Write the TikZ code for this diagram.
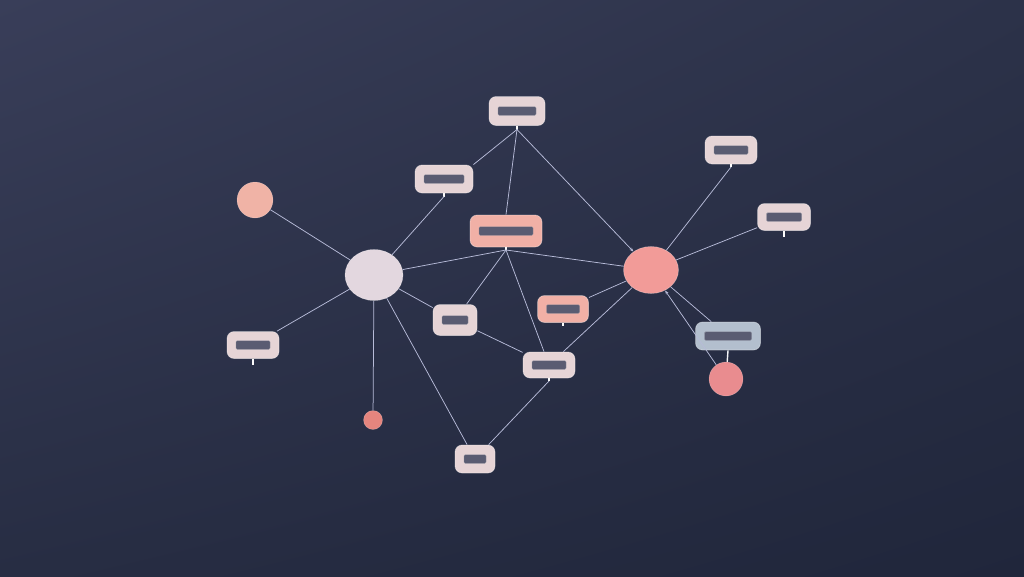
\documentclass[tikz,border=0pt]{standalone}
\usetikzlibrary{shapes.geometric,arrows.meta,shadings}
\definecolor{bgUL}{HTML}{393E59}
\definecolor{bgUR}{HTML}{2C3249}
\definecolor{bgLL}{HTML}{272D43}
\definecolor{bgLR}{HTML}{20263B}
\definecolor{edgecol}{HTML}{B7BBD8}
\definecolor{boxfill}{HTML}{E6D4D6}
\definecolor{boxpink}{HTML}{F1B0A6}
\definecolor{boxblue}{HTML}{B3BFCE}
\definecolor{barcol}{HTML}{5A5C72}
\definecolor{hubA}{HTML}{E3D7DF}
\definecolor{hubB}{HTML}{F29B98}
\definecolor{peach}{HTML}{F0B3A6}
\definecolor{rosec}{HTML}{E98C8F}
\definecolor{coral}{HTML}{E5857E}
\newcommand\boxnode[6]{%
  \node[box, #6, minimum width=#4pt, minimum height=#5pt] (#1) at (#2,#3) {};
  \node[bar, minimum width={#4pt-18pt}] (#1bar) at (#1) {};
}
\begin{document}
\begin{tikzpicture}[x=1pt, y=-1pt,
  box/.style={rectangle, rounded corners=7pt, inner sep=0pt, draw=white, draw opacity=0.35, line width=0.8pt},
  bar/.style={rectangle, rounded corners=1.2pt, inner sep=0pt, fill=barcol, draw=barcol!70!white, line width=0.4pt, minimum height=8.5pt},
  hub/.style={ellipse, inner sep=0pt, draw=white, draw opacity=0.3, line width=0.6pt},
  dot/.style={circle, inner sep=0pt, draw=white, draw opacity=0.25, line width=0.5pt},
  link/.style={draw=edgecol, line width=0.75pt},
  tail/.style={draw=white!90!boxfill, line width=1.6pt},
  tip/.style={-{Stealth[length=4pt,width=3pt]}}]
\shade[upper left=bgUL, upper right=bgUR, lower left=bgLL, lower right=bgLR] (0,0) rectangle (1024,576);
\useasboundingbox (0,0) rectangle (1024,576);

% hubs and dots
\node[hub, fill=hubA, minimum width=58pt, minimum height=51pt] (H1) at (374,275) {};
\node[hub, fill=hubB, minimum width=55pt, minimum height=47pt] (H2) at (651,270) {};
\node[dot, fill=peach, minimum size=36pt] (C1) at (255,200) {};
\node[dot, fill=rosec, minimum size=34pt] (C2) at (726,379) {};
\node[dot, fill=coral, minimum size=19pt] (C3) at (373,420) {};

% boxes
\boxnode{R1}{517}{111}{56}{29}{fill=boxfill}
\boxnode{R2}{444}{179}{58}{28}{fill=boxfill}
\boxnode{R3}{506}{231}{72}{32}{fill=boxpink}
\boxnode{R4}{731}{150}{52}{28}{fill=boxfill}
\boxnode{R5}{784}{217}{53}{27}{fill=boxfill}
\boxnode{R6}{253}{345}{52}{27}{fill=boxfill}
\boxnode{R7}{455}{320}{44}{31}{fill=boxfill}
\boxnode{R8}{563}{309}{51}{27}{fill=boxpink}
\boxnode{R9}{549}{365}{52}{26}{fill=boxfill}
\boxnode{R10}{728}{336}{65}{28}{fill=boxblue}
\boxnode{R11}{475}{459}{40}{28}{fill=boxfill}

% small tails under boxes
\coordinate (t1) at (517,129.5);
\coordinate (t2) at (444,196.5);
\coordinate (t3) at (506,250);
\coordinate (t4) at (731,167);
\coordinate (t5) at (784,237);
\coordinate (t6) at (253,365);
\coordinate (t8) at (563,326);
\coordinate (t9) at (549,381);
\draw[tail] (R1.south) -- (t1);
\draw[tail] (R2.south) -- (t2);
\draw[tail] (R3.south) -- (t3);
\draw[tail] (R4.south) -- (t4);
\draw[tail] (R5.south) -- (t5);
\draw[tail] (R6.south) -- (t6);
\draw[tail] (R8.south) -- (t8);
\draw[tail] (R9.south) -- (t9);

% connectors
\draw[link] (C1) -- (H1);
\draw[link] (H1) -- (t2);
\draw[link] (R2.north east) -- (t1);
\draw[link] (t1) -- (R3.north);
\draw[link, tip] (t1) -- (H2);
\draw[link] (H1) -- (t3);
\draw[link] (t3) -- (H2);
\draw[link] (t3) -- (R7);
\draw[link] (t3) -- (R9);
\draw[link] (H1) -- (R6);
\draw[link] (H1) -- (C3);
\draw[link] (H1) -- (R11);
\draw[link] (H1) -- (R7);
\draw[link] (R7) -- (R9);
\draw[link] (t9) -- (R11);
\draw[link] (R9) -- (H2);
\draw[link] (R8) -- (H2);
\draw[link] (H2) -- (t4);
\draw[link] (H2) -- (R5);
\draw[link] (R10) -- (H2);
\draw[link, tip] (C2) -- (H2);
\draw[link, line width=1.4pt, draw=white!85!boxblue] (R10.south) -- (C2);
\end{tikzpicture}
\end{document}
